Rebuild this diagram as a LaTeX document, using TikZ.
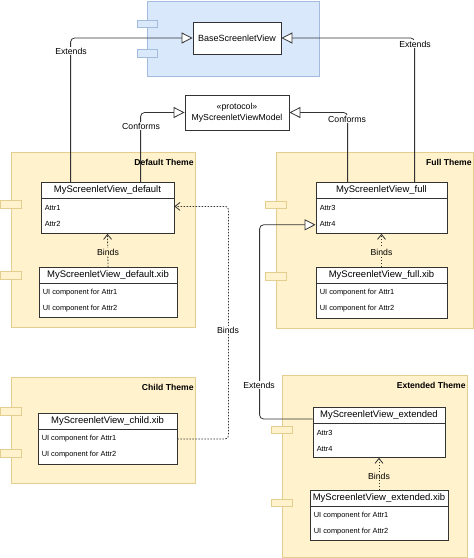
\documentclass[tikz,border=0pt]{standalone}
\usepackage{fontspec}
\setmainfont{Liberation Sans}
\usetikzlibrary{arrows.meta}
\definecolor{yfill}{HTML}{FFF2CC}
\definecolor{yline}{HTML}{E3CD8F}
\definecolor{bfill}{HTML}{DAE8FC}
\definecolor{bline}{HTML}{A3BCDD}
\definecolor{ink}{HTML}{333333}
\tikzset{
 theme/.style={draw=yline, fill=yfill, line width=0.8pt, inner sep=0pt},
 basecomp/.style={draw=bline, fill=bfill, line width=0.8pt, inner sep=0pt},
 ytab/.style={draw=yline, fill=yfill, line width=0.8pt},
 btab/.style={draw=bline, fill=bfill, line width=0.8pt},
 clsbox/.style={draw=ink, fill=white, line width=0.8pt, inner sep=0pt},
 clsline/.style={draw=ink, line width=0.8pt},
 clstitle/.style={font=\fontsize{9.5}{11}\selectfont, inner sep=0pt},
 attr/.style={anchor=west, font=\fontsize{7.4}{8.5}\selectfont, inner sep=0pt, xshift=4pt},
 themetitle/.style={anchor=east, font=\bfseries\fontsize{8.6}{10}\selectfont, inner sep=0pt},
 lbl/.style={fill=white, inner sep=1pt, font=\fontsize{8.7}{10}\selectfont},
 ylbl/.style={fill=yfill, inner sep=1pt, font=\fontsize{8.7}{10}\selectfont},
 gen/.style={draw=ink, line width=0.8pt, rounded corners=4pt, -{Triangle[open, length=11pt, width=11pt, fill=white]}},
 bindarrow/.style={draw=ink, line width=0.8pt, dash pattern=on 1.5pt off 1.5pt, rounded corners=3pt, -{Straight Barb[length=5pt, width=8pt]}},
}
\newcommand{\umlclassbox}[8]{%
 \node[clsbox, minimum width=#4pt, minimum height=#5pt, anchor=north] (#1) at (#2,#3) {};
 \draw[clsline] ([yshift=-16pt]#1.north west) -- ([yshift=-16pt]#1.north east);
 \node[clstitle] (#1-t) at ([yshift=-8.5pt]#1.north) {#6};
 \node[attr] (#1-a) at ([yshift=-25.5pt]#1.north west) {#7};
 \node[attr] (#1-b) at ([yshift=-42pt]#1.north west) {#8};
}
\begin{document}
\begin{tikzpicture}[x=1pt, y=-1pt]
\useasboundingbox (0,0) rectangle (474,558);
% base component
\node[basecomp, minimum width=172pt, minimum height=75.5pt, anchor=north west] (bcomp) at (147,0.5) {};
\draw[btab] (137,20) rectangle (157,27);
\draw[btab] (137,49) rectangle (157,57);
\node[clsbox, minimum width=88pt, minimum height=32pt, font=\fontsize{9}{11}\selectfont] (base) at (237,38) {BaseScreenletView};
% protocol
\node[clsbox, minimum width=104pt, minimum height=35pt, align=center, font=\fontsize{8.7}{10.5}\selectfont] (proto) at (237,112.5) {«protocol»\\MyScreenletViewModel};
% themes
\node[theme, minimum width=184pt, minimum height=175pt, anchor=north west] (tdef) at (11,152) {};
\node[theme, minimum width=197pt, minimum height=176pt, anchor=north west] (tfull) at (276,152) {};
\node[theme, minimum width=184pt, minimum height=106pt, anchor=north west] (tchild) at (11,377) {};
\node[theme, minimum width=185pt, minimum height=182pt, anchor=north west] (text) at (282,375) {};
\draw[ytab] (0,200) rectangle (21,208);
\draw[ytab] (0,271) rectangle (21,279);
\draw[ytab] (265,201) rectangle (286,208);
\draw[ytab] (265,272) rectangle (286,280);
\draw[ytab] (0,407) rectangle (21,415);
\draw[ytab] (0,449) rectangle (21,457);
\draw[ytab] (271,426) rectangle (292,433);
\draw[ytab] (271,499) rectangle (292,506);
\node[themetitle] (tdef-l) at ([xshift=-2pt, yshift=-10pt]tdef.north east) {Default Theme};
\node[themetitle] (tfull-l) at ([xshift=-2pt, yshift=-10pt]tfull.north east) {Full Theme};
\node[themetitle] (tchild-l) at ([xshift=-2pt, yshift=-10pt]tchild.north east) {Child Theme};
\node[themetitle] (text-l) at ([xshift=-2pt, yshift=-10pt]text.north east) {Extended Theme};
% classes
\umlclassbox{cdef}{107.5}{182}{133}{51}{MyScreenletView\_default}{Attr1}{Attr2}
\umlclassbox{xdef}{108}{267}{138}{50}{MyScreenletView\_default.xib}{UI component for Attr1}{UI component for Attr2}
\umlclassbox{cfull}{381.5}{182}{131}{51}{MyScreenletView\_full}{Attr3}{Attr4}
\umlclassbox{xfull}{381.5}{267}{131}{51}{MyScreenletView\_full.xib}{UI component for Attr1}{UI component for Attr2}
\umlclassbox{xchild}{107.5}{413}{139}{51}{MyScreenletView\_child.xib}{UI component for Attr1}{UI component for Attr2}
\umlclassbox{cext}{379}{407}{132}{50}{MyScreenletView\_extended}{Attr3}{Attr4}
\umlclassbox{xext}{379}{490}{138}{50}{MyScreenletView\_extended.xib}{UI component for Attr1}{UI component for Attr2}
% generalisation / conformance
\draw[gen] ([xshift=30pt]cdef.north west) |- (base.west);
\node[lbl] (lx1) at (71,51) {Extends};
\draw[gen] ([xshift=100pt]cdef.north west) |- (proto.west);
\node[lbl] (lc1) at (141,126) {Conforms};
\draw[gen] ([xshift=99pt]cfull.north west) |- (base.east);
\node[lbl] (lx2) at (415,44) {Extends};
\draw[gen] ([xshift=32pt]cfull.north west) |- (proto.east);
\node[lbl] (lc2) at (347,119) {Conforms};
\draw[gen] ([yshift=-12pt]cext.north west) -- ++(-53,0) |- ([yshift=9pt]cfull.south west);
\node[lbl] (lx3) at (259,385) {Extends};
% binds
\draw[bindarrow] (xdef.north) -- (cdef.south);
\node[ylbl] (lb1) at (108,252) {Binds};
\draw[bindarrow] (xfull.north) -- (cfull.south);
\node[ylbl] (lb2) at (381.5,252) {Binds};
\draw[bindarrow] (xext.north) -- (cext.south);
\node[ylbl] (lb3) at (379,476) {Binds};
\draw[bindarrow] (xchild.east) -| ([xshift=54pt, yshift=1.5pt]cdef.east) -- ([yshift=1.5pt]cdef.east);
\node[lbl] (lb4) at (228,330) {Binds};
\end{tikzpicture}
\end{document}
